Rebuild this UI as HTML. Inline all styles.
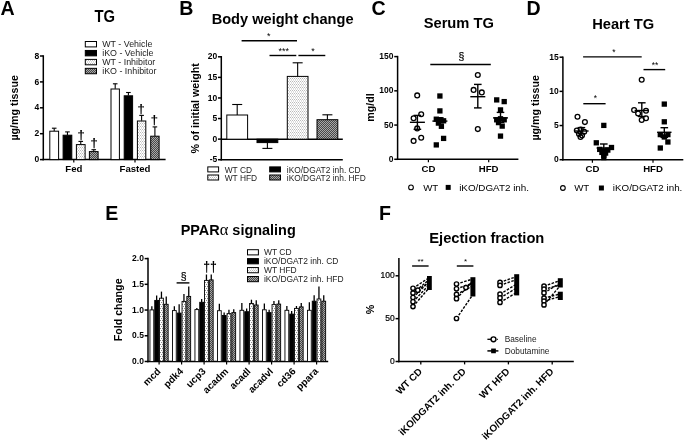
<!DOCTYPE html>
<html lang="en"><head><meta charset="utf-8"><title>Figure</title>
<style>html,body{margin:0;padding:0;background:#fff}svg{display:block}text{font-family:'Liberation Sans', sans-serif}.ser{font-family:'Liberation Serif',serif}</style>
</head><body>
<svg width="685" height="441" viewBox="0 0 685 441">
<defs>
<pattern id="dots" width="2" height="3" patternUnits="userSpaceOnUse"><rect width="2" height="3" fill="#fff"/><rect x="0" y="0" width="1" height="0.9" fill="#b4b4b4"/><rect x="1" y="1.5" width="1" height="0.9" fill="#b4b4b4"/></pattern>
<pattern id="chk" width="2" height="2" patternUnits="userSpaceOnUse"><rect width="2" height="2" fill="#484848"/><rect x="0" y="0" width="1" height="1" fill="#a8a8a8"/><rect x="1" y="1" width="1" height="1" fill="#a8a8a8"/></pattern>
<pattern id="dots2" width="2" height="4" patternUnits="userSpaceOnUse"><rect width="2" height="4" fill="#fff"/><rect x="0" y="0" width="1" height="1" fill="#8c8c8c"/><rect x="1" y="2" width="1" height="1" fill="#8c8c8c"/></pattern>
</defs>
<rect width="685" height="441" fill="#fff"/>
<g id="panelA">
<text x="0.40" y="14.90" font-size="19.6" font-weight="bold" text-anchor="start" fill="#000" >A</text>
<text transform="translate(104.80,21.80) scale(1.0,1.07)" font-size="14.8" font-weight="bold" text-anchor="middle" fill="#000" >TG</text>
<rect x="85.30" y="41.50" width="11.20" height="5.40" fill="#fff" stroke="#000" stroke-width="1.0"/>
<text x="102.20" y="47.30" font-size="8.9" font-weight="normal" text-anchor="start" fill="#222" >WT - Vehicle</text>
<rect x="85.30" y="50.45" width="11.20" height="5.40" fill="#000" stroke="#000" stroke-width="1.0"/>
<text x="102.20" y="56.25" font-size="8.9" font-weight="normal" text-anchor="start" fill="#222" >iKO - Vehicle</text>
<rect x="85.30" y="59.40" width="11.20" height="5.40" fill="url(#dots)" stroke="#000" stroke-width="1.0"/>
<text x="102.20" y="65.20" font-size="8.9" font-weight="normal" text-anchor="start" fill="#222" >WT - Inhibitor</text>
<rect x="85.30" y="68.35" width="11.20" height="5.40" fill="url(#chk)" stroke="#000" stroke-width="1.0"/>
<text x="102.20" y="74.15" font-size="8.9" font-weight="normal" text-anchor="start" fill="#222" >iKO - Inhibitor</text>
<line x1="43.30" y1="55.25" x2="43.30" y2="160.35" stroke="#000" stroke-width="1.5" />
<line x1="39.95" y1="56.00" x2="43.30" y2="56.00" stroke="#000" stroke-width="1.5" />
<text x="39.20" y="58.66" font-size="8.5" font-weight="bold" text-anchor="end" fill="#000" >8</text>
<line x1="39.95" y1="81.90" x2="43.30" y2="81.90" stroke="#000" stroke-width="1.5" />
<text x="39.20" y="84.56" font-size="8.5" font-weight="bold" text-anchor="end" fill="#000" >6</text>
<line x1="39.95" y1="107.80" x2="43.30" y2="107.80" stroke="#000" stroke-width="1.5" />
<text x="39.20" y="110.46" font-size="8.5" font-weight="bold" text-anchor="end" fill="#000" >4</text>
<line x1="39.95" y1="133.70" x2="43.30" y2="133.70" stroke="#000" stroke-width="1.5" />
<text x="39.20" y="136.36" font-size="8.5" font-weight="bold" text-anchor="end" fill="#000" >2</text>
<line x1="39.95" y1="159.60" x2="43.30" y2="159.60" stroke="#000" stroke-width="1.5" />
<text x="39.20" y="162.26" font-size="8.5" font-weight="bold" text-anchor="end" fill="#000" >0</text>
<line x1="42.55" y1="159.60" x2="165.60" y2="159.60" stroke="#000" stroke-width="1.5" />
<text transform="translate(18.30,107.80) rotate(-90)" font-size="10.7" font-weight="bold" text-anchor="middle">µg/mg tissue</text>
<line x1="54.20" y1="130.90" x2="54.20" y2="128.20" stroke="#000" stroke-width="1.1" />
<line x1="51.90" y1="128.20" x2="56.50" y2="128.20" stroke="#000" stroke-width="1.1" />
<rect x="49.80" y="131.20" width="8.80" height="28.40" fill="#fff" stroke="#000" stroke-width="1.0"/>
<line x1="67.45" y1="134.90" x2="67.45" y2="131.90" stroke="#000" stroke-width="1.1" />
<line x1="65.15" y1="131.90" x2="69.75" y2="131.90" stroke="#000" stroke-width="1.1" />
<rect x="63.10" y="135.20" width="8.70" height="24.40" fill="#000" stroke="#000" stroke-width="1.0"/>
<line x1="80.75" y1="144.30" x2="80.75" y2="141.40" stroke="#000" stroke-width="1.1" />
<line x1="78.45" y1="141.40" x2="83.05" y2="141.40" stroke="#000" stroke-width="1.1" />
<rect x="76.40" y="144.60" width="8.70" height="15.00" fill="url(#dots)" stroke="#000" stroke-width="1.0"/>
<line x1="93.75" y1="151.30" x2="93.75" y2="149.70" stroke="#000" stroke-width="1.1" />
<line x1="91.45" y1="149.70" x2="96.05" y2="149.70" stroke="#000" stroke-width="1.1" />
<rect x="89.40" y="151.60" width="8.70" height="8.00" fill="url(#chk)" stroke="#000" stroke-width="1.0"/>
<line x1="115.20" y1="88.70" x2="115.20" y2="83.80" stroke="#000" stroke-width="1.1" />
<line x1="112.90" y1="83.80" x2="117.50" y2="83.80" stroke="#000" stroke-width="1.1" />
<rect x="111.00" y="89.00" width="8.40" height="70.60" fill="#fff" stroke="#000" stroke-width="1.0"/>
<line x1="128.40" y1="95.50" x2="128.40" y2="92.50" stroke="#000" stroke-width="1.1" />
<line x1="126.10" y1="92.50" x2="130.70" y2="92.50" stroke="#000" stroke-width="1.1" />
<rect x="124.20" y="95.80" width="8.40" height="63.80" fill="#000" stroke="#000" stroke-width="1.0"/>
<line x1="141.60" y1="120.70" x2="141.60" y2="115.40" stroke="#000" stroke-width="1.1" />
<line x1="139.30" y1="115.40" x2="143.90" y2="115.40" stroke="#000" stroke-width="1.1" />
<rect x="137.40" y="121.00" width="8.40" height="38.60" fill="url(#dots)" stroke="#000" stroke-width="1.0"/>
<line x1="154.90" y1="135.90" x2="154.90" y2="126.90" stroke="#000" stroke-width="1.1" />
<line x1="152.60" y1="126.90" x2="157.20" y2="126.90" stroke="#000" stroke-width="1.1" />
<rect x="150.70" y="136.20" width="8.40" height="23.40" fill="url(#chk)" stroke="#000" stroke-width="1.0"/>
<line x1="73.80" y1="159.60" x2="73.80" y2="162.60" stroke="#000" stroke-width="1.2" />
<text x="73.80" y="172.20" font-size="9.6" font-weight="bold" text-anchor="middle" fill="#000" >Fed</text>
<line x1="135.00" y1="159.60" x2="135.00" y2="162.60" stroke="#000" stroke-width="1.2" />
<text x="135.00" y="172.20" font-size="9.6" font-weight="bold" text-anchor="middle" fill="#000" >Fasted</text>
<text transform="translate(81.20,139.30) scale(1.15,1)" font-size="12" font-weight="bold" text-anchor="middle" fill="#000" >†</text>
<text transform="translate(94.20,146.60) scale(1.15,1)" font-size="12" font-weight="bold" text-anchor="middle" fill="#000" >†</text>
<text transform="translate(141.20,113.30) scale(1.15,1)" font-size="12" font-weight="bold" text-anchor="middle" fill="#000" >†</text>
<text transform="translate(154.40,123.80) scale(1.15,1)" font-size="12" font-weight="bold" text-anchor="middle" fill="#000" >†</text>
</g>
<g id="panelB">
<text x="179.20" y="15.00" font-size="19.6" font-weight="bold" text-anchor="start" fill="#000" >B</text>
<text x="282.60" y="24.30" font-size="14.6" font-weight="bold" text-anchor="middle" fill="#000" >Body weight change</text>
<line x1="221.30" y1="56.05" x2="221.30" y2="160.45" stroke="#000" stroke-width="1.5" />
<line x1="217.95" y1="56.80" x2="221.30" y2="56.80" stroke="#000" stroke-width="1.5" />
<text x="217.20" y="59.46" font-size="8.5" font-weight="bold" text-anchor="end" fill="#000" >20</text>
<line x1="217.95" y1="77.38" x2="221.30" y2="77.38" stroke="#000" stroke-width="1.5" />
<text x="217.20" y="80.04" font-size="8.5" font-weight="bold" text-anchor="end" fill="#000" >15</text>
<line x1="217.95" y1="97.96" x2="221.30" y2="97.96" stroke="#000" stroke-width="1.5" />
<text x="217.20" y="100.62" font-size="8.5" font-weight="bold" text-anchor="end" fill="#000" >10</text>
<line x1="217.95" y1="118.54" x2="221.30" y2="118.54" stroke="#000" stroke-width="1.5" />
<text x="217.20" y="121.20" font-size="8.5" font-weight="bold" text-anchor="end" fill="#000" >5</text>
<line x1="217.95" y1="139.12" x2="221.30" y2="139.12" stroke="#000" stroke-width="1.5" />
<text x="217.20" y="141.78" font-size="8.5" font-weight="bold" text-anchor="end" fill="#000" >0</text>
<line x1="217.95" y1="159.70" x2="221.30" y2="159.70" stroke="#000" stroke-width="1.5" />
<text x="217.20" y="162.36" font-size="8.5" font-weight="bold" text-anchor="end" fill="#000" >-5</text>
<line x1="220.55" y1="159.70" x2="342.80" y2="159.70" stroke="#000" stroke-width="1.5" />
<line x1="221.30" y1="139.20" x2="342.80" y2="139.20" stroke="#000" stroke-width="1.4" />
<text transform="translate(198.50,108.30) rotate(-90)" font-size="10.7" font-weight="bold" text-anchor="middle">% of initial weight</text>
<line x1="237.20" y1="115.00" x2="237.20" y2="104.50" stroke="#000" stroke-width="1.1" />
<line x1="232.20" y1="104.50" x2="242.20" y2="104.50" stroke="#000" stroke-width="1.1" />
<rect x="226.80" y="115.00" width="20.80" height="24.20" fill="#fff" stroke="#000" stroke-width="1.0"/>
<line x1="267.40" y1="142.60" x2="267.40" y2="148.40" stroke="#000" stroke-width="1.1" />
<line x1="262.40" y1="148.40" x2="272.40" y2="148.40" stroke="#000" stroke-width="1.1" />
<rect x="257.00" y="139.20" width="20.80" height="3.40" fill="#000" stroke="#000" stroke-width="1.0"/>
<line x1="297.65" y1="76.40" x2="297.65" y2="62.80" stroke="#000" stroke-width="1.1" />
<line x1="292.65" y1="62.80" x2="302.65" y2="62.80" stroke="#000" stroke-width="1.1" />
<rect x="287.30" y="76.40" width="20.70" height="62.80" fill="url(#dots)" stroke="#000" stroke-width="1.0"/>
<line x1="327.40" y1="119.70" x2="327.40" y2="114.80" stroke="#000" stroke-width="1.1" />
<line x1="322.40" y1="114.80" x2="332.40" y2="114.80" stroke="#000" stroke-width="1.1" />
<rect x="317.00" y="119.70" width="20.80" height="19.50" fill="url(#chk)" stroke="#000" stroke-width="1.0"/>
<line x1="241.60" y1="40.80" x2="297.00" y2="40.80" stroke="#000" stroke-width="1.4" />
<text x="268.80" y="38.60" font-size="9" font-weight="normal" text-anchor="middle" fill="#000" >*</text>
<line x1="269.50" y1="55.50" x2="296.30" y2="55.50" stroke="#000" stroke-width="1.4" />
<text x="283.70" y="53.60" font-size="9" font-weight="normal" text-anchor="middle" fill="#000" >***</text>
<line x1="298.40" y1="55.50" x2="325.30" y2="55.50" stroke="#000" stroke-width="1.4" />
<text x="312.90" y="53.60" font-size="9" font-weight="normal" text-anchor="middle" fill="#000" >*</text>
<rect x="207.80" y="166.90" width="10.80" height="5.00" fill="#fff" stroke="#000" stroke-width="1.0"/>
<text x="224.70" y="172.50" font-size="8.4" font-weight="normal" text-anchor="start" fill="#222" >WT CD</text>
<rect x="207.80" y="175.00" width="10.80" height="5.00" fill="url(#dots)" stroke="#000" stroke-width="1.0"/>
<text x="224.70" y="180.60" font-size="8.4" font-weight="normal" text-anchor="start" fill="#222" >WT HFD</text>
<rect x="269.70" y="166.90" width="10.80" height="5.00" fill="#000" stroke="#000" stroke-width="1.0"/>
<text x="286.80" y="172.50" font-size="8.4" font-weight="normal" text-anchor="start" fill="#222" >iKO/DGAT2 inh. CD</text>
<rect x="269.70" y="175.00" width="10.80" height="5.00" fill="url(#chk)" stroke="#000" stroke-width="1.0"/>
<text x="286.80" y="180.60" font-size="8.4" font-weight="normal" text-anchor="start" fill="#222" >iKO/DGAT2 inh. HFD</text>
</g>
<g id="panelC">
<text x="371.60" y="15.20" font-size="19.6" font-weight="bold" text-anchor="start" fill="#000" >C</text>
<text x="458.80" y="27.70" font-size="14.7" font-weight="bold" text-anchor="middle" fill="#000" >Serum TG</text>
<line x1="397.60" y1="55.85" x2="397.60" y2="160.05" stroke="#000" stroke-width="1.5" />
<line x1="394.25" y1="56.60" x2="397.60" y2="56.60" stroke="#000" stroke-width="1.5" />
<text x="393.50" y="59.26" font-size="8.5" font-weight="bold" text-anchor="end" fill="#000" >150</text>
<line x1="394.25" y1="90.83" x2="397.60" y2="90.83" stroke="#000" stroke-width="1.5" />
<text x="393.50" y="93.49" font-size="8.5" font-weight="bold" text-anchor="end" fill="#000" >100</text>
<line x1="394.25" y1="125.06" x2="397.60" y2="125.06" stroke="#000" stroke-width="1.5" />
<text x="393.50" y="127.72" font-size="8.5" font-weight="bold" text-anchor="end" fill="#000" >50</text>
<line x1="394.25" y1="159.29" x2="397.60" y2="159.29" stroke="#000" stroke-width="1.5" />
<text x="393.50" y="161.95" font-size="8.5" font-weight="bold" text-anchor="end" fill="#000" >0</text>
<line x1="396.85" y1="159.30" x2="518.40" y2="159.30" stroke="#000" stroke-width="1.5" />
<text transform="translate(374.00,107.60) rotate(-90)" font-size="10.7" font-weight="bold" text-anchor="middle">mg/dl</text>
<line x1="428.40" y1="159.30" x2="428.40" y2="162.30" stroke="#000" stroke-width="1.2" />
<text x="428.40" y="172.00" font-size="9.6" font-weight="bold" text-anchor="middle" fill="#000" >CD</text>
<line x1="488.70" y1="159.30" x2="488.70" y2="162.30" stroke="#000" stroke-width="1.2" />
<text x="488.70" y="172.00" font-size="9.6" font-weight="bold" text-anchor="middle" fill="#000" >HFD</text>
<line x1="430.30" y1="64.50" x2="490.80" y2="64.50" stroke="#000" stroke-width="1.4" />
<text x="461.30" y="60.30" font-size="10.5" font-weight="normal" text-anchor="middle" fill="#000" stroke="#000" stroke-width="0.2">§</text>
<line x1="409.90" y1="122.30" x2="424.90" y2="122.30" stroke="#000" stroke-width="1.4" />
<line x1="417.40" y1="115.40" x2="417.40" y2="129.30" stroke="#000" stroke-width="1.4" />
<line x1="413.60" y1="115.40" x2="421.20" y2="115.40" stroke="#000" stroke-width="1.4" />
<line x1="413.60" y1="129.30" x2="421.20" y2="129.30" stroke="#000" stroke-width="1.4" />
<circle cx="417.20" cy="95.40" r="2.4" fill="none" stroke="#000" stroke-width="1.3"/>
<circle cx="421.20" cy="114.20" r="2.4" fill="none" stroke="#000" stroke-width="1.3"/>
<circle cx="413.60" cy="118.20" r="2.4" fill="none" stroke="#000" stroke-width="1.3"/>
<circle cx="417.20" cy="128.40" r="2.4" fill="none" stroke="#000" stroke-width="1.3"/>
<circle cx="421.20" cy="137.70" r="2.4" fill="none" stroke="#000" stroke-width="1.3"/>
<circle cx="413.60" cy="140.90" r="2.4" fill="none" stroke="#000" stroke-width="1.3"/>
<line x1="432.40" y1="121.10" x2="447.40" y2="121.10" stroke="#000" stroke-width="1.4" />
<line x1="439.90" y1="117.90" x2="439.90" y2="124.30" stroke="#000" stroke-width="1.4" />
<line x1="436.10" y1="117.90" x2="443.70" y2="117.90" stroke="#000" stroke-width="1.4" />
<line x1="436.10" y1="124.30" x2="443.70" y2="124.30" stroke="#000" stroke-width="1.4" />
<rect x="437.25" y="93.35" width="5.3" height="5.3" fill="#000"/>
<rect x="437.25" y="108.25" width="5.3" height="5.3" fill="#000"/>
<rect x="433.65" y="116.55" width="5.3" height="5.3" fill="#000"/>
<rect x="437.45" y="117.05" width="5.3" height="5.3" fill="#000"/>
<rect x="440.95" y="118.15" width="5.3" height="5.3" fill="#000"/>
<rect x="435.75" y="120.45" width="5.3" height="5.3" fill="#000"/>
<rect x="438.75" y="123.65" width="5.3" height="5.3" fill="#000"/>
<rect x="440.95" y="135.75" width="5.3" height="5.3" fill="#000"/>
<rect x="433.65" y="142.25" width="5.3" height="5.3" fill="#000"/>
<line x1="470.30" y1="96.70" x2="485.30" y2="96.70" stroke="#000" stroke-width="1.4" />
<line x1="477.80" y1="84.40" x2="477.80" y2="107.90" stroke="#000" stroke-width="1.4" />
<line x1="474.00" y1="84.40" x2="481.60" y2="84.40" stroke="#000" stroke-width="1.4" />
<line x1="474.00" y1="107.90" x2="481.60" y2="107.90" stroke="#000" stroke-width="1.4" />
<circle cx="477.80" cy="75.00" r="2.4" fill="none" stroke="#000" stroke-width="1.3"/>
<circle cx="473.60" cy="89.90" r="2.4" fill="none" stroke="#000" stroke-width="1.3"/>
<circle cx="481.80" cy="92.40" r="2.4" fill="none" stroke="#000" stroke-width="1.3"/>
<circle cx="477.80" cy="129.10" r="2.4" fill="none" stroke="#000" stroke-width="1.3"/>
<line x1="493.00" y1="117.90" x2="508.00" y2="117.90" stroke="#000" stroke-width="1.4" />
<line x1="500.50" y1="112.40" x2="500.50" y2="122.30" stroke="#000" stroke-width="1.4" />
<line x1="496.70" y1="112.40" x2="504.30" y2="112.40" stroke="#000" stroke-width="1.4" />
<line x1="496.70" y1="122.30" x2="504.30" y2="122.30" stroke="#000" stroke-width="1.4" />
<rect x="494.05" y="97.25" width="5.3" height="5.3" fill="#000"/>
<rect x="501.55" y="98.95" width="5.3" height="5.3" fill="#000"/>
<rect x="497.85" y="107.25" width="5.3" height="5.3" fill="#000"/>
<rect x="494.05" y="117.15" width="5.3" height="5.3" fill="#000"/>
<rect x="497.85" y="116.15" width="5.3" height="5.3" fill="#000"/>
<rect x="501.55" y="117.15" width="5.3" height="5.3" fill="#000"/>
<rect x="495.85" y="119.95" width="5.3" height="5.3" fill="#000"/>
<rect x="499.55" y="123.45" width="5.3" height="5.3" fill="#000"/>
<rect x="497.85" y="133.45" width="5.3" height="5.3" fill="#000"/>
<circle cx="411.00" cy="187.40" r="2.35" fill="none" stroke="#000" stroke-width="1.1"/>
<text x="423.20" y="190.90" font-size="9.7" font-weight="normal" text-anchor="start" fill="#000" >WT</text>
<rect x="445.70" y="184.90" width="5.0" height="5.0" fill="#000"/>
<text x="459.20" y="190.90" font-size="9.85" font-weight="normal" text-anchor="start" fill="#000" >iKO/DGAT2 inh.</text>
</g>
<g id="panelD">
<text x="526.60" y="15.20" font-size="19.6" font-weight="bold" text-anchor="start" fill="#000" >D</text>
<text x="623.20" y="28.50" font-size="14.7" font-weight="bold" text-anchor="middle" fill="#000" >Heart TG</text>
<line x1="562.90" y1="56.45" x2="562.90" y2="160.45" stroke="#000" stroke-width="1.5" />
<line x1="559.55" y1="57.20" x2="562.90" y2="57.20" stroke="#000" stroke-width="1.5" />
<text x="558.80" y="59.86" font-size="8.5" font-weight="bold" text-anchor="end" fill="#000" >15</text>
<line x1="559.55" y1="91.37" x2="562.90" y2="91.37" stroke="#000" stroke-width="1.5" />
<text x="558.80" y="94.03" font-size="8.5" font-weight="bold" text-anchor="end" fill="#000" >10</text>
<line x1="559.55" y1="125.54" x2="562.90" y2="125.54" stroke="#000" stroke-width="1.5" />
<text x="558.80" y="128.20" font-size="8.5" font-weight="bold" text-anchor="end" fill="#000" >5</text>
<line x1="559.55" y1="159.71" x2="562.90" y2="159.71" stroke="#000" stroke-width="1.5" />
<text x="558.80" y="162.37" font-size="8.5" font-weight="bold" text-anchor="end" fill="#000" >0</text>
<line x1="562.15" y1="159.70" x2="683.30" y2="159.70" stroke="#000" stroke-width="1.5" />
<text transform="translate(539.10,107.80) rotate(-90)" font-size="10.7" font-weight="bold" text-anchor="middle">µg/mg tissue</text>
<line x1="592.40" y1="159.70" x2="592.40" y2="162.70" stroke="#000" stroke-width="1.2" />
<text x="592.40" y="172.20" font-size="9.6" font-weight="bold" text-anchor="middle" fill="#000" >CD</text>
<line x1="653.00" y1="159.70" x2="653.00" y2="162.70" stroke="#000" stroke-width="1.2" />
<text x="653.00" y="172.20" font-size="9.6" font-weight="bold" text-anchor="middle" fill="#000" >HFD</text>
<line x1="583.10" y1="56.90" x2="641.70" y2="56.90" stroke="#000" stroke-width="1.4" />
<text x="614.00" y="54.80" font-size="8.5" font-weight="normal" text-anchor="middle" fill="#000" >*</text>
<line x1="643.50" y1="69.60" x2="665.20" y2="69.60" stroke="#000" stroke-width="1.4" />
<text x="655.00" y="67.60" font-size="8.5" font-weight="normal" text-anchor="middle" fill="#000" >**</text>
<line x1="583.30" y1="103.70" x2="605.60" y2="103.70" stroke="#000" stroke-width="1.4" />
<text x="595.40" y="101.40" font-size="8.5" font-weight="normal" text-anchor="middle" fill="#000" >*</text>
<line x1="574.20" y1="131.00" x2="588.60" y2="131.00" stroke="#000" stroke-width="1.4" />
<line x1="581.40" y1="127.60" x2="581.40" y2="133.60" stroke="#000" stroke-width="1.4" />
<line x1="577.60" y1="127.60" x2="585.20" y2="127.60" stroke="#000" stroke-width="1.4" />
<line x1="577.60" y1="133.60" x2="585.20" y2="133.60" stroke="#000" stroke-width="1.4" />
<circle cx="577.50" cy="116.70" r="2.4" fill="none" stroke="#000" stroke-width="1.3"/>
<circle cx="584.90" cy="122.10" r="2.4" fill="none" stroke="#000" stroke-width="1.3"/>
<circle cx="576.80" cy="130.50" r="2.4" fill="none" stroke="#000" stroke-width="1.3"/>
<circle cx="580.80" cy="129.60" r="2.4" fill="none" stroke="#000" stroke-width="1.3"/>
<circle cx="584.20" cy="131.70" r="2.4" fill="none" stroke="#000" stroke-width="1.3"/>
<circle cx="579.00" cy="133.90" r="2.4" fill="none" stroke="#000" stroke-width="1.3"/>
<circle cx="582.00" cy="135.40" r="2.4" fill="none" stroke="#000" stroke-width="1.3"/>
<circle cx="580.50" cy="137.00" r="2.4" fill="none" stroke="#000" stroke-width="1.3"/>
<line x1="596.60" y1="148.00" x2="611.00" y2="148.00" stroke="#000" stroke-width="1.4" />
<line x1="603.80" y1="144.00" x2="603.80" y2="152.00" stroke="#000" stroke-width="1.4" />
<line x1="600.00" y1="144.00" x2="607.60" y2="144.00" stroke="#000" stroke-width="1.4" />
<line x1="600.00" y1="152.00" x2="607.60" y2="152.00" stroke="#000" stroke-width="1.4" />
<rect x="601.15" y="122.75" width="5.3" height="5.3" fill="#000"/>
<rect x="593.65" y="140.15" width="5.3" height="5.3" fill="#000"/>
<rect x="608.85" y="144.85" width="5.3" height="5.3" fill="#000"/>
<rect x="597.05" y="146.75" width="5.3" height="5.3" fill="#000"/>
<rect x="600.65" y="148.25" width="5.3" height="5.3" fill="#000"/>
<rect x="605.15" y="147.45" width="5.3" height="5.3" fill="#000"/>
<rect x="599.25" y="149.75" width="5.3" height="5.3" fill="#000"/>
<rect x="602.95" y="150.45" width="5.3" height="5.3" fill="#000"/>
<rect x="601.15" y="152.65" width="5.3" height="5.3" fill="#000"/>
<rect x="601.15" y="154.95" width="5.3" height="5.3" fill="#000"/>
<line x1="634.60" y1="110.50" x2="649.00" y2="110.50" stroke="#000" stroke-width="1.4" />
<line x1="641.80" y1="102.80" x2="641.80" y2="116.50" stroke="#000" stroke-width="1.4" />
<line x1="638.00" y1="102.80" x2="645.60" y2="102.80" stroke="#000" stroke-width="1.4" />
<line x1="638.00" y1="116.50" x2="645.60" y2="116.50" stroke="#000" stroke-width="1.4" />
<circle cx="641.70" cy="79.80" r="2.4" fill="none" stroke="#000" stroke-width="1.3"/>
<circle cx="634.10" cy="110.00" r="2.4" fill="none" stroke="#000" stroke-width="1.3"/>
<circle cx="646.00" cy="110.80" r="2.4" fill="none" stroke="#000" stroke-width="1.3"/>
<circle cx="638.10" cy="113.60" r="2.4" fill="none" stroke="#000" stroke-width="1.3"/>
<circle cx="646.00" cy="118.20" r="2.4" fill="none" stroke="#000" stroke-width="1.3"/>
<circle cx="641.70" cy="120.00" r="2.4" fill="none" stroke="#000" stroke-width="1.3"/>
<line x1="657.10" y1="132.30" x2="671.50" y2="132.30" stroke="#000" stroke-width="1.4" />
<line x1="664.30" y1="127.70" x2="664.30" y2="137.40" stroke="#000" stroke-width="1.4" />
<line x1="660.50" y1="127.70" x2="668.10" y2="127.70" stroke="#000" stroke-width="1.4" />
<line x1="660.50" y1="137.40" x2="668.10" y2="137.40" stroke="#000" stroke-width="1.4" />
<rect x="661.65" y="101.45" width="5.3" height="5.3" fill="#000"/>
<rect x="661.65" y="119.15" width="5.3" height="5.3" fill="#000"/>
<rect x="657.65" y="131.95" width="5.3" height="5.3" fill="#000"/>
<rect x="665.25" y="131.95" width="5.3" height="5.3" fill="#000"/>
<rect x="661.65" y="134.35" width="5.3" height="5.3" fill="#000"/>
<rect x="665.25" y="139.35" width="5.3" height="5.3" fill="#000"/>
<rect x="657.65" y="145.35" width="5.3" height="5.3" fill="#000"/>
<circle cx="562.90" cy="188.00" r="2.35" fill="none" stroke="#000" stroke-width="1.1"/>
<text x="574.20" y="191.20" font-size="9.7" font-weight="normal" text-anchor="start" fill="#000" >WT</text>
<rect x="598.90" y="185.50" width="5.0" height="5.0" fill="#000"/>
<text x="612.80" y="191.20" font-size="9.8" font-weight="normal" text-anchor="start" fill="#000" >iKO/DGAT2 inh.</text>
</g>
<g id="panelE">
<text x="105.20" y="219.80" font-size="19.6" font-weight="bold" text-anchor="start" fill="#000" >E</text>
<text x="238.2" y="234.7" font-size="14.45" font-weight="bold" text-anchor="middle">PPAR<tspan class="ser" font-weight="normal" font-size="16.5">α</tspan> signaling</text>
<line x1="148.00" y1="257.85" x2="148.00" y2="362.25" stroke="#000" stroke-width="1.5" />
<line x1="144.65" y1="258.60" x2="148.00" y2="258.60" stroke="#000" stroke-width="1.5" />
<text x="143.90" y="261.26" font-size="8.5" font-weight="bold" text-anchor="end" fill="#000" >2.0</text>
<line x1="144.65" y1="284.32" x2="148.00" y2="284.32" stroke="#000" stroke-width="1.5" />
<text x="143.90" y="286.98" font-size="8.5" font-weight="bold" text-anchor="end" fill="#000" >1.5</text>
<line x1="144.65" y1="310.04" x2="148.00" y2="310.04" stroke="#000" stroke-width="1.5" />
<text x="143.90" y="312.70" font-size="8.5" font-weight="bold" text-anchor="end" fill="#000" >1.0</text>
<line x1="144.65" y1="335.76" x2="148.00" y2="335.76" stroke="#000" stroke-width="1.5" />
<text x="143.90" y="338.42" font-size="8.5" font-weight="bold" text-anchor="end" fill="#000" >0.5</text>
<line x1="144.65" y1="361.48" x2="148.00" y2="361.48" stroke="#000" stroke-width="1.5" />
<text x="143.90" y="364.14" font-size="8.5" font-weight="bold" text-anchor="end" fill="#000" >0.0</text>
<line x1="147.25" y1="361.50" x2="328.20" y2="361.50" stroke="#000" stroke-width="1.5" />
<text transform="translate(121.80,309.90) rotate(-90)" font-size="10.7" font-weight="bold" text-anchor="middle">Fold change</text>
<line x1="159.10" y1="361.50" x2="159.10" y2="364.40" stroke="#000" stroke-width="1.2" />
<line x1="151.85" y1="309.90" x2="151.85" y2="306.20" stroke="#000" stroke-width="1.3" />
<rect x="149.95" y="309.90" width="3.80" height="51.60" fill="#fff" stroke="#000" stroke-width="0.9"/>
<line x1="156.65" y1="300.40" x2="156.65" y2="295.50" stroke="#000" stroke-width="1.3" />
<rect x="154.75" y="300.40" width="3.80" height="61.10" fill="#000" stroke="#000" stroke-width="0.9"/>
<line x1="161.45" y1="298.20" x2="161.45" y2="291.60" stroke="#000" stroke-width="1.3" />
<rect x="159.55" y="298.20" width="3.80" height="63.30" fill="url(#dots2)" stroke="#000" stroke-width="0.9"/>
<line x1="166.25" y1="304.30" x2="166.25" y2="296.40" stroke="#000" stroke-width="1.3" />
<rect x="164.35" y="304.30" width="3.80" height="57.20" fill="url(#chk)" stroke="#000" stroke-width="0.9"/>
<text transform="translate(161.30,372.00) rotate(-45)" font-size="9.8" font-weight="bold" text-anchor="end">mcd</text>
<line x1="181.60" y1="361.50" x2="181.60" y2="364.40" stroke="#000" stroke-width="1.2" />
<line x1="174.35" y1="310.60" x2="174.35" y2="306.20" stroke="#000" stroke-width="1.3" />
<rect x="172.45" y="310.60" width="3.80" height="50.90" fill="#fff" stroke="#000" stroke-width="0.9"/>
<line x1="179.15" y1="313.10" x2="179.15" y2="304.30" stroke="#000" stroke-width="1.3" />
<rect x="177.25" y="313.10" width="3.80" height="48.40" fill="#000" stroke="#000" stroke-width="0.9"/>
<line x1="183.95" y1="301.40" x2="183.95" y2="294.10" stroke="#000" stroke-width="1.3" />
<rect x="182.05" y="301.40" width="3.80" height="60.10" fill="url(#dots2)" stroke="#000" stroke-width="0.9"/>
<line x1="188.75" y1="296.40" x2="188.75" y2="286.50" stroke="#000" stroke-width="1.3" />
<rect x="186.85" y="296.40" width="3.80" height="65.10" fill="url(#chk)" stroke="#000" stroke-width="0.9"/>
<text transform="translate(183.80,372.00) rotate(-45)" font-size="9.8" font-weight="bold" text-anchor="end">pdk4</text>
<line x1="204.10" y1="361.50" x2="204.10" y2="364.40" stroke="#000" stroke-width="1.2" />
<line x1="196.85" y1="309.60" x2="196.85" y2="308.10" stroke="#000" stroke-width="1.3" />
<rect x="194.95" y="309.60" width="3.80" height="51.90" fill="#fff" stroke="#000" stroke-width="0.9"/>
<line x1="201.65" y1="302.30" x2="201.65" y2="298.90" stroke="#000" stroke-width="1.3" />
<rect x="199.75" y="302.30" width="3.80" height="59.20" fill="#000" stroke="#000" stroke-width="0.9"/>
<line x1="206.45" y1="280.40" x2="206.45" y2="274.50" stroke="#000" stroke-width="1.3" />
<rect x="204.55" y="280.40" width="3.80" height="81.10" fill="url(#dots2)" stroke="#000" stroke-width="0.9"/>
<line x1="211.25" y1="279.90" x2="211.25" y2="274.50" stroke="#000" stroke-width="1.3" />
<rect x="209.35" y="279.90" width="3.80" height="81.60" fill="url(#chk)" stroke="#000" stroke-width="0.9"/>
<text transform="translate(206.30,372.00) rotate(-45)" font-size="9.8" font-weight="bold" text-anchor="end">ucp3</text>
<line x1="226.60" y1="361.50" x2="226.60" y2="364.40" stroke="#000" stroke-width="1.2" />
<line x1="219.35" y1="310.70" x2="219.35" y2="303.70" stroke="#000" stroke-width="1.3" />
<rect x="217.45" y="310.70" width="3.80" height="50.80" fill="#fff" stroke="#000" stroke-width="0.9"/>
<line x1="224.15" y1="315.50" x2="224.15" y2="312.60" stroke="#000" stroke-width="1.3" />
<rect x="222.25" y="315.50" width="3.80" height="46.00" fill="#000" stroke="#000" stroke-width="0.9"/>
<line x1="228.95" y1="313.60" x2="228.95" y2="309.80" stroke="#000" stroke-width="1.3" />
<rect x="227.05" y="313.60" width="3.80" height="47.90" fill="url(#dots2)" stroke="#000" stroke-width="0.9"/>
<line x1="233.75" y1="312.60" x2="233.75" y2="309.20" stroke="#000" stroke-width="1.3" />
<rect x="231.85" y="312.60" width="3.80" height="48.90" fill="url(#chk)" stroke="#000" stroke-width="0.9"/>
<text transform="translate(228.80,372.00) rotate(-45)" font-size="9.8" font-weight="bold" text-anchor="end">acadm</text>
<line x1="249.10" y1="361.50" x2="249.10" y2="364.40" stroke="#000" stroke-width="1.2" />
<line x1="241.85" y1="310.30" x2="241.85" y2="303.10" stroke="#000" stroke-width="1.3" />
<rect x="239.95" y="310.30" width="3.80" height="51.20" fill="#fff" stroke="#000" stroke-width="0.9"/>
<line x1="246.65" y1="311.70" x2="246.65" y2="308.40" stroke="#000" stroke-width="1.3" />
<rect x="244.75" y="311.70" width="3.80" height="49.80" fill="#000" stroke="#000" stroke-width="0.9"/>
<line x1="251.45" y1="303.50" x2="251.45" y2="299.70" stroke="#000" stroke-width="1.3" />
<rect x="249.55" y="303.50" width="3.80" height="58.00" fill="url(#dots2)" stroke="#000" stroke-width="0.9"/>
<line x1="256.25" y1="305.00" x2="256.25" y2="300.30" stroke="#000" stroke-width="1.3" />
<rect x="254.35" y="305.00" width="3.80" height="56.50" fill="url(#chk)" stroke="#000" stroke-width="0.9"/>
<text transform="translate(251.30,372.00) rotate(-45)" font-size="9.8" font-weight="bold" text-anchor="end">acadl</text>
<line x1="271.60" y1="361.50" x2="271.60" y2="364.40" stroke="#000" stroke-width="1.2" />
<line x1="264.35" y1="309.80" x2="264.35" y2="303.50" stroke="#000" stroke-width="1.3" />
<rect x="262.45" y="309.80" width="3.80" height="51.70" fill="#fff" stroke="#000" stroke-width="0.9"/>
<line x1="269.15" y1="312.60" x2="269.15" y2="309.80" stroke="#000" stroke-width="1.3" />
<rect x="267.25" y="312.60" width="3.80" height="48.90" fill="#000" stroke="#000" stroke-width="0.9"/>
<line x1="273.95" y1="304.60" x2="273.95" y2="300.90" stroke="#000" stroke-width="1.3" />
<rect x="272.05" y="304.60" width="3.80" height="56.90" fill="url(#dots2)" stroke="#000" stroke-width="0.9"/>
<line x1="278.75" y1="304.10" x2="278.75" y2="300.30" stroke="#000" stroke-width="1.3" />
<rect x="276.85" y="304.10" width="3.80" height="57.40" fill="url(#chk)" stroke="#000" stroke-width="0.9"/>
<text transform="translate(273.80,372.00) rotate(-45)" font-size="9.8" font-weight="bold" text-anchor="end">acadvl</text>
<line x1="294.10" y1="361.50" x2="294.10" y2="364.40" stroke="#000" stroke-width="1.2" />
<line x1="286.85" y1="310.30" x2="286.85" y2="306.00" stroke="#000" stroke-width="1.3" />
<rect x="284.95" y="310.30" width="3.80" height="51.20" fill="#fff" stroke="#000" stroke-width="0.9"/>
<line x1="291.65" y1="314.10" x2="291.65" y2="311.10" stroke="#000" stroke-width="1.3" />
<rect x="289.75" y="314.10" width="3.80" height="47.40" fill="#000" stroke="#000" stroke-width="0.9"/>
<line x1="296.45" y1="308.40" x2="296.45" y2="306.00" stroke="#000" stroke-width="1.3" />
<rect x="294.55" y="308.40" width="3.80" height="53.10" fill="url(#dots2)" stroke="#000" stroke-width="0.9"/>
<line x1="301.25" y1="306.90" x2="301.25" y2="303.10" stroke="#000" stroke-width="1.3" />
<rect x="299.35" y="306.90" width="3.80" height="54.60" fill="url(#chk)" stroke="#000" stroke-width="0.9"/>
<text transform="translate(296.30,372.00) rotate(-45)" font-size="9.8" font-weight="bold" text-anchor="end">cd36</text>
<line x1="316.60" y1="361.50" x2="316.60" y2="364.40" stroke="#000" stroke-width="1.2" />
<line x1="309.35" y1="310.30" x2="309.35" y2="302.20" stroke="#000" stroke-width="1.3" />
<rect x="307.45" y="310.30" width="3.80" height="51.20" fill="#fff" stroke="#000" stroke-width="0.9"/>
<line x1="314.15" y1="301.20" x2="314.15" y2="295.20" stroke="#000" stroke-width="1.3" />
<rect x="312.25" y="301.20" width="3.80" height="60.30" fill="#000" stroke="#000" stroke-width="0.9"/>
<line x1="318.95" y1="299.00" x2="318.95" y2="286.40" stroke="#000" stroke-width="1.3" />
<rect x="317.05" y="299.00" width="3.80" height="62.50" fill="url(#dots2)" stroke="#000" stroke-width="0.9"/>
<line x1="323.75" y1="301.20" x2="323.75" y2="295.20" stroke="#000" stroke-width="1.3" />
<rect x="321.85" y="301.20" width="3.80" height="60.30" fill="url(#chk)" stroke="#000" stroke-width="0.9"/>
<text transform="translate(318.80,372.00) rotate(-45)" font-size="9.8" font-weight="bold" text-anchor="end">ppara</text>
<line x1="176.60" y1="282.90" x2="189.40" y2="282.90" stroke="#000" stroke-width="1.4" />
<text x="183.60" y="279.90" font-size="10.5" font-weight="normal" text-anchor="middle" fill="#000" stroke="#000" stroke-width="0.2">§</text>
<text transform="translate(210.00,271.80) scale(0.85,1)" font-size="14.5" font-weight="bold" text-anchor="middle" fill="#000" >††</text>
<rect x="247.50" y="249.70" width="10.90" height="5.20" fill="#fff" stroke="#000" stroke-width="1.0"/>
<text x="264.00" y="255.40" font-size="8.45" font-weight="normal" text-anchor="start" fill="#222" >WT CD</text>
<rect x="247.50" y="258.63" width="10.90" height="5.20" fill="#000" stroke="#000" stroke-width="1.0"/>
<text x="264.00" y="264.33" font-size="8.45" font-weight="normal" text-anchor="start" fill="#222" >iKO/DGAT2 inh. CD</text>
<rect x="247.50" y="267.56" width="10.90" height="5.20" fill="url(#dots)" stroke="#000" stroke-width="1.0"/>
<text x="264.00" y="273.26" font-size="8.45" font-weight="normal" text-anchor="start" fill="#222" >WT HFD</text>
<rect x="247.50" y="276.49" width="10.90" height="5.20" fill="url(#chk)" stroke="#000" stroke-width="1.0"/>
<text x="264.00" y="282.19" font-size="8.45" font-weight="normal" text-anchor="start" fill="#222" >iKO/DGAT2 inh. HFD</text>
</g>
<g id="panelF">
<text x="379.00" y="219.80" font-size="19.6" font-weight="bold" text-anchor="start" fill="#000" >F</text>
<text x="486.80" y="242.60" font-size="14.7" font-weight="bold" text-anchor="middle" fill="#000" >Ejection fraction</text>
<line x1="398.90" y1="257.95" x2="398.90" y2="362.25" stroke="#000" stroke-width="1.5" />
<line x1="395.55" y1="275.80" x2="398.90" y2="275.80" stroke="#000" stroke-width="1.5" />
<text x="394.80" y="278.46" font-size="8.5" font-weight="normal" text-anchor="end" fill="#000" stroke="#000" stroke-width="0.2">100</text>
<line x1="395.55" y1="318.65" x2="398.90" y2="318.65" stroke="#000" stroke-width="1.5" />
<text x="394.80" y="321.31" font-size="8.5" font-weight="normal" text-anchor="end" fill="#000" stroke="#000" stroke-width="0.2">50</text>
<line x1="395.55" y1="361.50" x2="398.90" y2="361.50" stroke="#000" stroke-width="1.5" />
<text x="394.80" y="364.16" font-size="8.5" font-weight="normal" text-anchor="end" fill="#000" stroke="#000" stroke-width="0.2">0</text>
<line x1="398.15" y1="361.50" x2="573.80" y2="361.50" stroke="#000" stroke-width="1.5" />
<text transform="translate(374.20,309.40) rotate(-90)" font-size="10.7" font-weight="bold" text-anchor="middle">%</text>
<line x1="413.00" y1="288.30" x2="429.40" y2="277.50" stroke="#000" stroke-width="1.4" stroke-dasharray="2.6 1.4"/>
<line x1="413.00" y1="293.10" x2="429.40" y2="279.50" stroke="#000" stroke-width="1.4" stroke-dasharray="2.6 1.4"/>
<line x1="413.00" y1="297.50" x2="429.40" y2="281.50" stroke="#000" stroke-width="1.4" stroke-dasharray="2.6 1.4"/>
<line x1="413.00" y1="301.80" x2="429.40" y2="284.50" stroke="#000" stroke-width="1.4" stroke-dasharray="2.6 1.4"/>
<line x1="413.00" y1="306.60" x2="429.40" y2="287.50" stroke="#000" stroke-width="1.4" stroke-dasharray="2.6 1.4"/>
<line x1="417.80" y1="290.20" x2="429.40" y2="282.00" stroke="#000" stroke-width="1.4" stroke-dasharray="2.6 1.4"/>
<circle cx="413.00" cy="288.30" r="2.15" fill="#fff" stroke="#000" stroke-width="1.4"/>
<circle cx="413.00" cy="293.10" r="2.15" fill="#fff" stroke="#000" stroke-width="1.4"/>
<circle cx="413.00" cy="297.50" r="2.15" fill="#fff" stroke="#000" stroke-width="1.4"/>
<circle cx="413.00" cy="301.80" r="2.15" fill="#fff" stroke="#000" stroke-width="1.4"/>
<circle cx="413.00" cy="306.60" r="2.15" fill="#fff" stroke="#000" stroke-width="1.4"/>
<circle cx="417.80" cy="290.20" r="2.15" fill="#fff" stroke="#000" stroke-width="1.4"/>
<rect x="427.00" y="276.00" width="4.80" height="14.00" fill="#000" stroke="none" stroke-width="0"/>
<line x1="420.80" y1="361.50" x2="420.80" y2="364.40" stroke="#000" stroke-width="1.3" />
<text transform="translate(422.80,372.20) rotate(-45)" font-size="9.9" font-weight="bold" text-anchor="end">WT CD</text>
<line x1="456.50" y1="284.00" x2="472.90" y2="279.00" stroke="#000" stroke-width="1.4" stroke-dasharray="2.6 1.4"/>
<line x1="456.50" y1="288.80" x2="472.90" y2="283.00" stroke="#000" stroke-width="1.4" stroke-dasharray="2.6 1.4"/>
<line x1="456.50" y1="294.40" x2="472.90" y2="286.00" stroke="#000" stroke-width="1.4" stroke-dasharray="2.6 1.4"/>
<line x1="456.50" y1="298.70" x2="472.90" y2="281.00" stroke="#000" stroke-width="1.4" stroke-dasharray="2.6 1.4"/>
<line x1="456.50" y1="318.50" x2="472.90" y2="294.50" stroke="#000" stroke-width="1.4" stroke-dasharray="2.6 1.4"/>
<line x1="465.90" y1="287.60" x2="472.90" y2="282.50" stroke="#000" stroke-width="1.4" stroke-dasharray="2.6 1.4"/>
<circle cx="456.50" cy="284.00" r="2.15" fill="#fff" stroke="#000" stroke-width="1.4"/>
<circle cx="456.50" cy="288.80" r="2.15" fill="#fff" stroke="#000" stroke-width="1.4"/>
<circle cx="456.50" cy="294.40" r="2.15" fill="#fff" stroke="#000" stroke-width="1.4"/>
<circle cx="456.50" cy="298.70" r="2.15" fill="#fff" stroke="#000" stroke-width="1.4"/>
<circle cx="456.50" cy="318.50" r="2.15" fill="#fff" stroke="#000" stroke-width="1.4"/>
<circle cx="465.90" cy="287.60" r="2.15" fill="#fff" stroke="#000" stroke-width="1.4"/>
<rect x="470.40" y="277.20" width="5.00" height="19.30" fill="#000" stroke="none" stroke-width="0"/>
<line x1="464.60" y1="361.50" x2="464.60" y2="364.40" stroke="#000" stroke-width="1.3" />
<text transform="translate(466.60,372.20) rotate(-45)" font-size="9.9" font-weight="bold" text-anchor="end">iKO/DGAT2 inh. CD</text>
<line x1="500.00" y1="282.40" x2="516.70" y2="276.50" stroke="#000" stroke-width="1.4" stroke-dasharray="2.6 1.4"/>
<line x1="500.00" y1="285.40" x2="516.70" y2="279.50" stroke="#000" stroke-width="1.4" stroke-dasharray="2.6 1.4"/>
<line x1="500.00" y1="294.20" x2="516.70" y2="284.00" stroke="#000" stroke-width="1.4" stroke-dasharray="2.6 1.4"/>
<line x1="500.00" y1="297.90" x2="516.70" y2="288.00" stroke="#000" stroke-width="1.4" stroke-dasharray="2.6 1.4"/>
<line x1="500.00" y1="302.40" x2="516.70" y2="292.50" stroke="#000" stroke-width="1.4" stroke-dasharray="2.6 1.4"/>
<circle cx="500.00" cy="282.40" r="2.15" fill="#fff" stroke="#000" stroke-width="1.4"/>
<circle cx="500.00" cy="285.40" r="2.15" fill="#fff" stroke="#000" stroke-width="1.4"/>
<circle cx="500.00" cy="294.20" r="2.15" fill="#fff" stroke="#000" stroke-width="1.4"/>
<circle cx="500.00" cy="297.90" r="2.15" fill="#fff" stroke="#000" stroke-width="1.4"/>
<circle cx="500.00" cy="302.40" r="2.15" fill="#fff" stroke="#000" stroke-width="1.4"/>
<rect x="514.20" y="274.20" width="5.00" height="21.20" fill="#000" stroke="none" stroke-width="0"/>
<line x1="508.40" y1="361.50" x2="508.40" y2="364.40" stroke="#000" stroke-width="1.3" />
<text transform="translate(510.40,372.20) rotate(-45)" font-size="9.9" font-weight="bold" text-anchor="end">WT HFD</text>
<line x1="544.00" y1="286.20" x2="560.30" y2="280.50" stroke="#000" stroke-width="1.4" stroke-dasharray="2.6 1.4"/>
<line x1="544.00" y1="289.20" x2="560.30" y2="285.00" stroke="#000" stroke-width="1.4" stroke-dasharray="2.6 1.4"/>
<line x1="544.00" y1="292.90" x2="560.30" y2="283.00" stroke="#000" stroke-width="1.4" stroke-dasharray="2.6 1.4"/>
<line x1="544.00" y1="298.10" x2="560.30" y2="294.00" stroke="#000" stroke-width="1.4" stroke-dasharray="2.6 1.4"/>
<line x1="544.00" y1="301.10" x2="560.30" y2="296.50" stroke="#000" stroke-width="1.4" stroke-dasharray="2.6 1.4"/>
<line x1="544.00" y1="304.90" x2="560.30" y2="285.50" stroke="#000" stroke-width="1.4" stroke-dasharray="2.6 1.4"/>
<circle cx="544.00" cy="286.20" r="2.15" fill="#fff" stroke="#000" stroke-width="1.4"/>
<circle cx="544.00" cy="289.20" r="2.15" fill="#fff" stroke="#000" stroke-width="1.4"/>
<circle cx="544.00" cy="292.90" r="2.15" fill="#fff" stroke="#000" stroke-width="1.4"/>
<circle cx="544.00" cy="298.10" r="2.15" fill="#fff" stroke="#000" stroke-width="1.4"/>
<circle cx="544.00" cy="301.10" r="2.15" fill="#fff" stroke="#000" stroke-width="1.4"/>
<circle cx="544.00" cy="304.90" r="2.15" fill="#fff" stroke="#000" stroke-width="1.4"/>
<rect x="557.80" y="278.20" width="5.00" height="9.30" fill="#000" stroke="none" stroke-width="0"/>
<rect x="557.80" y="291.70" width="5.00" height="8.30" fill="#000" stroke="none" stroke-width="0"/>
<line x1="552.20" y1="361.50" x2="552.20" y2="364.40" stroke="#000" stroke-width="1.3" />
<text transform="translate(554.20,372.20) rotate(-45)" font-size="9.9" font-weight="bold" text-anchor="end">iKO/DGAT2 inh. HFD</text>
<line x1="412.10" y1="266.00" x2="428.60" y2="266.00" stroke="#000" stroke-width="1.4" />
<text x="420.50" y="264.40" font-size="8" font-weight="normal" text-anchor="middle" fill="#000" >**</text>
<line x1="456.80" y1="266.00" x2="473.40" y2="266.00" stroke="#000" stroke-width="1.4" />
<text x="465.60" y="264.40" font-size="8" font-weight="normal" text-anchor="middle" fill="#000" >*</text>
<line x1="487.40" y1="339.30" x2="491.00" y2="339.30" stroke="#000" stroke-width="1.3" />
<line x1="496.00" y1="339.30" x2="498.40" y2="339.30" stroke="#000" stroke-width="1.3" stroke-dasharray="0.9 0.9" stroke-dashoffset="0.9"/>
<circle cx="493.50" cy="339.30" r="2.45" fill="#fff" stroke="#000" stroke-width="1.4"/>
<text x="504.70" y="341.90" font-size="8.3" font-weight="normal" text-anchor="start" fill="#222" >Baseline</text>
<line x1="487.40" y1="350.90" x2="498.40" y2="350.90" stroke="#000" stroke-width="1.5" />
<rect x="491.15" y="348.55" width="4.7" height="4.7" fill="#000"/>
<text x="504.70" y="353.70" font-size="8.3" font-weight="normal" text-anchor="start" fill="#222" >Dobutamine</text>
</g>
</svg>
</body></html>
